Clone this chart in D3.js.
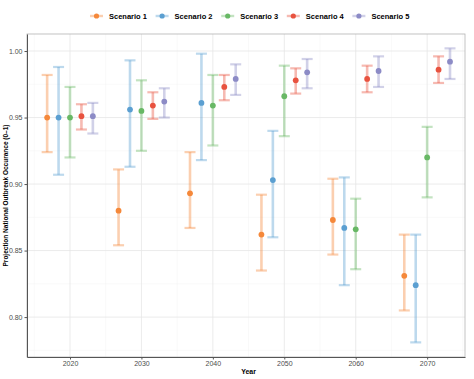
<!DOCTYPE html>
<html lang="en">
<head>
<meta charset="UTF-8">
<title>Projected National Outbreak Occurance</title>
<script src="https://d3js.org/d3.v7.min.js"></script>
<style>
  body { margin: 0; background: #fff; font-family: "Liberation Sans", Arial, sans-serif; }
</style>
</head>
<body>
<svg id="chart" width="474" height="379"></svg>
<script>
// data
const years = [2020, 2030, 2040, 2050, 2060, 2070];
const scenarios = ["Scenario 1", "Scenario 2", "Scenario 3", "Scenario 4", "Scenario 5"];
const colors = ["#F5883A", "#5B9FD1", "#68B865", "#E8523F", "#8C8BC6"];

// [mean, lower, upper] per year, one array per scenario
const s1 = [[0.950, 0.924, 0.982], [0.880, 0.854, 0.911], [0.893, 0.867, 0.924], [0.862, 0.835, 0.892], [0.873, 0.847, 0.904], [0.831, 0.805, 0.862]];
const s2 = [[0.950, 0.907, 0.988], [0.956, 0.913, 0.993], [0.961, 0.918, 0.998], [0.903, 0.860, 0.940], [0.867, 0.824, 0.905], [0.824, 0.781, 0.862]];
const s3 = [[0.950, 0.920, 0.973], [0.955, 0.925, 0.978], [0.959, 0.929, 0.982], [0.966, 0.936, 0.989], [0.866, 0.836, 0.889], [0.920, 0.890, 0.943]];
const s4 = [[0.951, 0.941, 0.960], [0.959, 0.949, 0.969], [0.973, 0.963, 0.982], [0.978, 0.968, 0.987], [0.979, 0.969, 0.989], [0.986, 0.976, 0.996]];
const s5 = [[0.951, 0.938, 0.961], [0.962, 0.950, 0.972], [0.979, 0.967, 0.990], [0.984, 0.972, 0.994], [0.985, 0.973, 0.996], [0.992, 0.979, 1.002]];
const seriesValues = [s1, s2, s3, s4, s5];

const yTicks = [0.80, 0.85, 0.90, 0.95, 1.00];

const svg = d3.select("#chart");
const margin = { top: 34, right: 9, bottom: 22, left: 27 };
const W = 474, H = 379;

const x = d3.scaleLinear().domain([2013.98, 2075.3]).range([margin.left, W - margin.right]);
const y = d3.scaleLinear().domain([0.77, 1.0128]).range([H - margin.bottom, margin.top]);
const dodge = 1.6; // years between scenarios inside a group

// grid
const grid = svg.append("g");
const minorY = d3.range(0.775, 1.01, 0.05);
const minorX = d3.range(2015, 2076, 10);
grid.selectAll(".my").data(minorY).join("line")
  .attr("x1", margin.left).attr("x2", W - margin.right)
  .attr("y1", d => y(d)).attr("y2", d => y(d))
  .attr("stroke", "#f2f2f2").attr("stroke-width", 0.5);
grid.selectAll(".mx").data(minorX).join("line")
  .attr("y1", margin.top).attr("y2", H - margin.bottom)
  .attr("x1", d => x(d)).attr("x2", d => x(d))
  .attr("stroke", "#f2f2f2").attr("stroke-width", 0.5);
grid.selectAll(".gy").data(yTicks).join("line")
  .attr("x1", margin.left).attr("x2", W - margin.right)
  .attr("y1", d => y(d)).attr("y2", d => y(d))
  .attr("stroke", "#e6e6e6").attr("stroke-width", 0.8);
grid.selectAll(".gx").data(years).join("line")
  .attr("y1", margin.top).attr("y2", H - margin.bottom)
  .attr("x1", d => x(d)).attr("x2", d => x(d))
  .attr("stroke", "#e6e6e6").attr("stroke-width", 0.8);

// panel border
svg.append("rect")
  .attr("x", margin.left).attr("y", margin.top)
  .attr("width", W - margin.left - margin.right)
  .attr("height", H - margin.top - margin.bottom)
  .attr("fill", "none").attr("stroke", "#b3b3b3").attr("stroke-width", 0.8);

// axes
const yAxis = svg.append("g")
  .attr("transform", `translate(${margin.left},0)`)
  .call(d3.axisLeft(y).tickValues(yTicks).tickFormat(d3.format(".2f"))
    .tickSize(2.5).tickSizeOuter(0).tickPadding(2));
const xAxis = svg.append("g")
  .attr("transform", `translate(0,${H - margin.bottom})`)
  .call(d3.axisBottom(x).tickValues(years).tickFormat(d3.format("d"))
    .tickSize(2.5).tickSizeOuter(0).tickPadding(2));
[xAxis, yAxis].forEach(a => {
  a.select(".domain").attr("stroke", "#555").attr("stroke-width", 1);
  a.selectAll(".tick line").attr("stroke", "#555");
  a.selectAll("text").attr("fill", "#4d4d4d").style("font-size", "7px")
    .style("font-family", "'Liberation Sans', Arial, sans-serif");
});

svg.append("text")
  .attr("x", x(2045)).attr("y", 374)
  .attr("text-anchor", "middle")
  .style("font-size", "7px").style("font-weight", "bold")
  .text("Year");

svg.append("text")
  .attr("transform", `translate(8,${(margin.top + H - margin.bottom) / 2}) rotate(-90)`)
  .attr("text-anchor", "middle")
  .style("font-size", "6.5px").style("font-weight", "bold")
  .text("Projection National Outbreak Occurance (0\u20131)");

// error bars + points
const capHalf = 5.5;
scenarios.forEach((name, si) => {
  const g = svg.append("g");
  const col = colors[si];
  const rows = seriesValues[si].map((v, i) => ({ xv: years[i] + (si - 2) * dodge, mean: v[0], lo: v[1], hi: v[2] }));
  g.selectAll(".bar").data(rows).join("line")
    .attr("x1", d => x(d.xv)).attr("x2", d => x(d.xv))
    .attr("y1", d => y(d.lo)).attr("y2", d => y(d.hi))
    .attr("stroke", col).attr("stroke-opacity", 0.4).attr("stroke-width", 2.6);
  g.selectAll(".capHi").data(rows).join("line")
    .attr("x1", d => x(d.xv) - capHalf).attr("x2", d => x(d.xv) + capHalf)
    .attr("y1", d => y(d.hi)).attr("y2", d => y(d.hi))
    .attr("stroke", col).attr("stroke-opacity", 0.4).attr("stroke-width", 2.2);
  g.selectAll(".capLo").data(rows).join("line")
    .attr("x1", d => x(d.xv) - capHalf).attr("x2", d => x(d.xv) + capHalf)
    .attr("y1", d => y(d.lo)).attr("y2", d => y(d.lo))
    .attr("stroke", col).attr("stroke-opacity", 0.4).attr("stroke-width", 2.2);
  g.selectAll(".pt").data(rows).join("circle")
    .attr("cx", d => x(d.xv)).attr("cy", d => y(d.mean))
    .attr("r", 2.9).attr("fill", col);
});

// legend
const legend = svg.append("g").attr("transform", "translate(90,16)");
const item = legend.selectAll("g").data(scenarios).join("g")
  .attr("transform", (d, i) => `translate(${i * 65.6},0)`);
item.append("line").attr("x1", 0).attr("x2", 13).attr("y1", 0).attr("y2", 0)
  .attr("stroke", (d, i) => colors[i]).attr("stroke-opacity", 0.4).attr("stroke-width", 2.4);
item.append("circle").attr("cx", 6.5).attr("cy", 0).attr("r", 2.6)
  .attr("fill", (d, i) => colors[i]);
item.append("text").attr("x", 19).attr("y", 2.6)
  .style("font-size", "7.5px").style("font-weight", "bold")
  .text(d => d);
</script>
</body>
</html>
